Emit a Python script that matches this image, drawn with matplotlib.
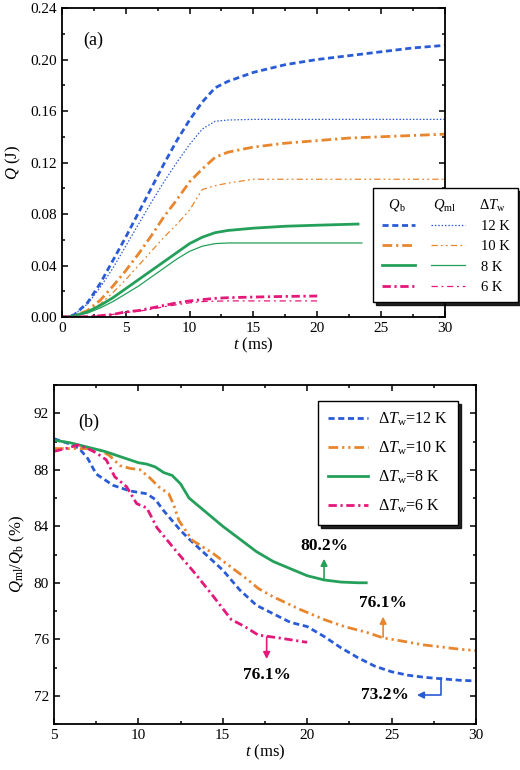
import matplotlib
matplotlib.use("Agg")
import matplotlib.pyplot as plt
from matplotlib.ticker import MultipleLocator, FormatStrFormatter

plt.rcParams['font.family'] = ['Liberation Serif', 'DejaVu Serif']
plt.rcParams['mathtext.fontset'] = 'custom'
plt.rcParams['mathtext.rm'] = 'Liberation Serif'
plt.rcParams['mathtext.it'] = 'Liberation Serif:italic'
plt.rcParams['mathtext.bf'] = 'Liberation Serif:bold'

BLUE = '#2a5bd7'
ORANGE = '#e8862e'
GREEN = '#24a05a'
MAGENTA = '#e5187a'

# ---------------- Panel (a) data ----------------
t_qb12 = [0, 0.5, 1, 2, 3, 4, 5, 6, 7, 8, 9, 10, 11, 12, 13, 15, 17.5, 20, 22.5, 25, 27.5, 30]
qb12 = [0, 0, 0.002, 0.011, 0.026, 0.044, 0.062, 0.081, 0.100, 0.119, 0.137, 0.153, 0.167, 0.178,
        0.183, 0.190, 0.196, 0.200, 0.203, 0.206, 0.209, 0.211]
t_qml12 = [0, 0.5, 1, 2, 3, 4, 5, 6, 7, 8, 9, 10, 11, 12, 13, 15, 20, 25, 30]
qml12 = [0, 0, 0.002, 0.010, 0.023, 0.038, 0.055, 0.072, 0.089, 0.105, 0.120, 0.134, 0.146, 0.152,
         0.153, 0.1535, 0.1535, 0.1535, 0.1535]

t_qb10 = [0, 0.5, 1, 2, 3, 4, 5, 6, 7, 8, 9, 10, 11, 12, 13, 15, 17.5, 20, 22.5, 25, 27.5, 30]
qb10 = [0, 0, 0.001, 0.005, 0.013, 0.024, 0.036, 0.049, 0.063, 0.078, 0.091, 0.105, 0.115, 0.124,
        0.128, 0.132, 0.135, 0.137, 0.139, 0.140, 0.141, 0.142]
t_qml10 = [0, 0.5, 1, 2, 3, 4, 5, 6, 7, 8, 9, 10, 11, 12, 13, 15, 20, 25, 30]
qml10 = [0, 0, 0.001, 0.004, 0.010, 0.019, 0.029, 0.040, 0.051, 0.062, 0.072, 0.083, 0.099, 0.102,
         0.104, 0.107, 0.107, 0.107, 0.107]

t_qb8 = [0, 0.5, 1, 2, 3, 4, 5, 6, 7, 8, 9, 10, 11, 12, 13, 15, 17.5, 20, 23.2]
qb8 = [0, 0, 0.001, 0.004, 0.009, 0.015, 0.022, 0.029, 0.036, 0.043, 0.050, 0.057, 0.062, 0.0655,
       0.0672, 0.069, 0.0705, 0.0713, 0.0722]
t_qml8 = [0, 0.5, 1, 2, 3, 4, 5, 6, 7, 8, 9, 10, 11, 12, 13, 15, 20, 23.5]
qml8 = [0, 0, 0.001, 0.003, 0.007, 0.012, 0.018, 0.024, 0.031, 0.038, 0.045, 0.051, 0.055, 0.057,
        0.0575, 0.0575, 0.0575, 0.0575]

t_qb6 = [0, 1, 2, 3, 4, 5, 6, 7, 8, 9, 10, 11, 12, 13, 15, 17.5, 20]
qb6 = [0, 0, 0.0003, 0.001, 0.002, 0.004, 0.005, 0.007, 0.009, 0.011, 0.0125, 0.0135, 0.0145,
       0.015, 0.0155, 0.016, 0.0163]
t_qml6 = [0, 1, 2, 3, 4, 5, 6, 7, 8, 9, 10, 11, 12, 13, 15, 17.5, 20]
qml6 = [0, 0, 0.0003, 0.001, 0.002, 0.0035, 0.0045, 0.006, 0.008, 0.0095, 0.011, 0.012, 0.0123,
        0.0125, 0.0125, 0.0125, 0.0125]

legend_a_labels = ['12 K', '10 K', '8 K', '6 K']

# ---------------- Panel (b) data ----------------
t_r12 = [5, 5.5, 6, 6.5, 7, 7.5, 8, 8.5, 9, 9.5, 10, 10.5, 11, 11.5, 12, 12.5, 13, 14, 15, 16, 17,
         18, 19, 20, 21, 22, 23, 24, 25, 26, 27, 28, 29, 30]
r12 = [90.2, 90.0, 89.8, 89.5, 88.8, 87.7, 87.3, 86.9, 86.7, 86.5, 86.4, 86.3, 85.9, 85.1, 84.4,
       83.7, 83.1, 82.0, 80.9, 79.5, 78.4, 77.8, 77.2, 76.9, 76.2, 75.4, 74.7, 74.1, 73.7, 73.45,
       73.3, 73.2, 73.1, 73.05]
t_r10 = [5, 6, 7, 7.7, 8.3, 8.9, 9.5, 10.1, 10.7, 11.2, 11.8, 12.1, 12.4, 13.2, 14.4, 15.5, 16.5,
         17.1, 18, 19.6, 21, 22.2, 23.5, 24.5, 25.5, 26.9, 28, 29, 30]
r10 = [89.5, 89.5, 89.5, 89.4, 89.0, 88.3, 88.1, 88.0, 87.4, 86.8, 86.3, 85.5, 84.4, 83.0, 82.1,
       81.1, 80.2, 79.6, 79.0, 78.1, 77.4, 76.9, 76.5, 76.1, 75.9, 75.6, 75.45, 75.3, 75.2]
t_r8 = [5, 6, 7, 8, 9, 10, 10.5, 11, 11.5, 12, 12.5, 13, 14, 15, 16, 17, 18, 19, 20, 21, 22, 23, 23.5]
r8 = [90.1, 89.9, 89.6, 89.3, 88.9, 88.5, 88.4, 88.2, 87.8, 87.6, 87.0, 86.0, 85.0, 84.0, 83.1,
      82.2, 81.5, 81.0, 80.5, 80.2, 80.05, 80.0, 80.0]
t_r6 = [5, 5.7, 6.4, 7, 7.5, 8.1, 8.6, 9.3, 9.9, 10.5, 11.1, 12.2, 13.4, 14.4, 15.5, 16.3, 17.1,
        18.3, 19.9, 20]
r6 = [89.3, 89.5, 89.75, 89.5, 89.2, 88.7, 87.5, 86.8, 85.6, 85.3, 83.9, 82.3, 80.6, 79.1, 77.4,
      76.9, 76.3, 76.1, 75.8, 75.8]
legend_b_labels = [r'$\Delta T_\mathrm{w}$=12 K', r'$\Delta T_\mathrm{w}$=10 K',
                   r'$\Delta T_\mathrm{w}$=8 K', r'$\Delta T_\mathrm{w}$=6 K']

ann_labels = ['80.2%', '76.1%', '73.2%', '76.1%']

fig = plt.figure(figsize=(5.2, 7.7), dpi=100)
axa = fig.add_axes([0.119, 0.5883, 0.7365, 0.4013])
axb = fig.add_axes([0.1038, 0.0597, 0.8115, 0.4403])

def style_axes(ax):
    for s in ax.spines.values():
        s.set_linewidth(1.3)
    ax.tick_params(which='both', direction='in', top=True, right=True, labelsize=11, width=1.1)
    ax.tick_params(which='major', length=4.5)
    ax.tick_params(which='minor', length=2.5)

# ---- (a)
ls_b12 = (0, (2.2, 1.3))
ls_m12 = (0, (1.2, 1.5))
ls_b10 = (0, (3.5, 1.4, 0.8, 1.4))
ls_m10 = (0, (5, 2.5, 1.5, 2.5, 1.5, 2.5))
ls_b6 = (0, (3.0, 1.3, 0.8, 1.3))
ls_m6 = (0, (5, 3, 1.5, 3))
lwb, lwm = 2.0, 0.9

h_b12, = axa.plot(t_qb12, qb12, color=BLUE, lw=lwb, ls=ls_b12)
h_m12, = axa.plot(t_qml12, qml12, color=BLUE, lw=lwm, ls=ls_m12)
h_b10, = axa.plot(t_qb10, qb10, color=ORANGE, lw=lwb, ls=ls_b10)
h_m10, = axa.plot(t_qml10, qml10, color=ORANGE, lw=lwm, ls=ls_m10)
h_b8, = axa.plot(t_qb8, qb8, color=GREEN, lw=lwb, ls='-')
h_m8, = axa.plot(t_qml8, qml8, color=GREEN, lw=lwm, ls='-')
h_b6, = axa.plot(t_qb6, qb6, color=MAGENTA, lw=lwb, ls=ls_b6)
h_m6, = axa.plot(t_qml6, qml6, color=MAGENTA, lw=lwm, ls=ls_m6)

axa.set_xlim(0, 30)
axa.set_ylim(0, 0.24)
axa.xaxis.set_major_locator(MultipleLocator(5))
axa.xaxis.set_minor_locator(MultipleLocator(2.5))
axa.yaxis.set_major_locator(MultipleLocator(0.04))
axa.yaxis.set_minor_locator(MultipleLocator(0.02))
axa.yaxis.set_major_formatter(FormatStrFormatter('%.2f'))
style_axes(axa)
axa.set_xlabel(r'$t$ (ms)', fontsize=12, labelpad=1)
axa.set_ylabel(r'$Q$ (J)', fontsize=12, labelpad=5)
axa.text(0.055, 0.895, '(a)', transform=axa.transAxes, fontsize=13, va='center', ha='left')

handles = [h_b12, h_b10, h_b8, h_b6, h_m12, h_m10, h_m8, h_m6]
labels = ['', '', '', ''] + legend_a_labels
title = r'$\hspace{0.65}Q_\mathrm{b}\hspace{2.7}Q_\mathrm{ml}\hspace{2.3}\Delta T_\mathrm{w}$'
lega = axa.legend(handles, labels, ncol=2, loc='upper left', bbox_to_anchor=(0.812, 0.417),
                  fontsize=10.5, title=title, title_fontsize=10.5, frameon=True, fancybox=False,
                  edgecolor='black', framealpha=1, borderaxespad=0, handlelength=2.3,
                  handletextpad=1.1, columnspacing=0.0, labelspacing=0.48, borderpad=0.6,
                  alignment='left', shadow={'color': 'black', 'alpha': 0.85})
lega.get_frame().set_linewidth(1.0)

# ---- (b)
h12, = axb.plot(t_r12, r12, color=BLUE, lw=2.0, ls=(0, (2.2, 1.3)))
h10, = axb.plot(t_r10, r10, color=ORANGE, lw=2.0, ls=(0, (3.5, 1.4, 0.8, 1.4, 0.8, 1.4)))
h8, = axb.plot(t_r8, r8, color=GREEN, lw=2.0, ls='-')
h6, = axb.plot(t_r6, r6, color=MAGENTA, lw=2.0, ls=(0, (3.0, 1.3, 0.8, 1.3)))
axb.set_xlim(5, 30)
axb.set_ylim(70, 94)
axb.xaxis.set_major_locator(MultipleLocator(5))
axb.xaxis.set_minor_locator(MultipleLocator(2.5))
axb.yaxis.set_major_locator(MultipleLocator(4))
axb.yaxis.set_minor_locator(MultipleLocator(2))
style_axes(axb)
axb.set_xlabel(r'$t$ (ms)', fontsize=12, labelpad=1)
axb.set_ylabel(r'$Q_\mathrm{ml}/Q_\mathrm{b}$ (%)', fontsize=12, labelpad=5)
axb.text(0.057, 0.89, '(b)', transform=axb.transAxes, fontsize=13, va='center', ha='left')

legb = axb.legend([h12, h10, h8, h6], legend_b_labels, loc='upper right', bbox_to_anchor=(0.957, 0.953),
                  fontsize=11.5, frameon=True, fancybox=False, edgecolor='black', framealpha=1,
                  borderaxespad=0, handlelength=2.5, handletextpad=0.6, labelspacing=0.72,
                  borderpad=0.62, shadow={'color': 'black', 'alpha': 0.85})
legb.get_frame().set_linewidth(1.0)

# annotations
bold = dict(fontsize=12.5, fontweight='bold', ha='center', va='center')
arrow_kw = dict(lw=1.2, mutation_scale=10, shrinkA=0, shrinkB=0)
axb.text(21.0, 82.6, ann_labels[0], **bold)
axb.annotate('', xy=(21.0, 81.7), xytext=(21.0, 80.3),
             arrowprops=dict(arrowstyle='-|>', color=GREEN, **arrow_kw))
axb.text(24.5, 78.6, ann_labels[1], **bold)
axb.annotate('', xy=(24.5, 77.6), xytext=(24.5, 76.15),
             arrowprops=dict(arrowstyle='-|>', color=ORANGE, **arrow_kw))
axb.text(24.6, 72.05, ann_labels[2], **bold)
axb.annotate('', xy=(26.5, 72.05), xytext=(27.9, 73.25),
             arrowprops=dict(arrowstyle='-|>', color=BLUE,
                             connectionstyle='angle,angleA=90,angleB=0,rad=0', **arrow_kw))
axb.text(17.6, 73.5, ann_labels[3], **bold)
axb.annotate('', xy=(17.6, 74.6), xytext=(17.6, 76.15),
             arrowprops=dict(arrowstyle='-|>', color=MAGENTA, **arrow_kw))

fig.savefig('out.png', dpi=100)
